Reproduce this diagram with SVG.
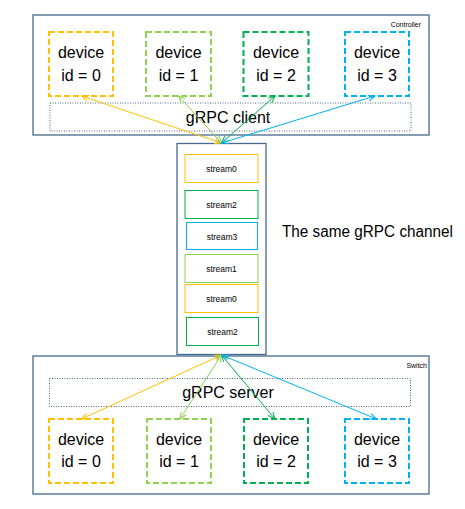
<svg xmlns="http://www.w3.org/2000/svg" width="465" height="509" viewBox="0 0 465 509">
<defs>
<style>
.frame{fill:#fff;stroke:#456a8e;stroke-width:1.3}
.dot{fill:none;stroke:#4a6a8a;stroke-width:1;stroke-dasharray:1,1.5}
.dev{fill:#fff;stroke-width:2;stroke-dasharray:6,3}
.st{fill:#fff;stroke-width:1}
.t{font-family:"Liberation Sans",Arial,sans-serif;fill:#000}
.big{font-size:16px}
.sm{font-size:7px}
.ss{font-size:8.5px}
.c0{stroke:#ffc000}.c1{stroke:#92d050}.c2{stroke:#00b050}.c3{stroke:#00b0f0}
.ln{fill:none;stroke-width:1}
</style>
<marker id="a0" markerWidth="8" markerHeight="8" refX="7" refY="4" orient="auto-start-reverse" markerUnits="userSpaceOnUse"><path d="M0,1 L7,4 L0,7" fill="none" stroke="#ffc000" stroke-width="1"/></marker>
<marker id="a1" markerWidth="8" markerHeight="8" refX="7" refY="4" orient="auto-start-reverse" markerUnits="userSpaceOnUse"><path d="M0,1 L7,4 L0,7" fill="none" stroke="#92d050" stroke-width="1"/></marker>
<marker id="a2" markerWidth="8" markerHeight="8" refX="7" refY="4" orient="auto-start-reverse" markerUnits="userSpaceOnUse"><path d="M0,1 L7,4 L0,7" fill="none" stroke="#00b050" stroke-width="1"/></marker>
<marker id="a3" markerWidth="8" markerHeight="8" refX="7" refY="4" orient="auto-start-reverse" markerUnits="userSpaceOnUse"><path d="M0,1 L7,4 L0,7" fill="none" stroke="#00b0f0" stroke-width="1"/></marker>
</defs>
<rect width="465" height="509" fill="#fff"/>

<g id="controller">
<rect class="frame" x="33" y="15" width="396" height="120"/>
<text class="t sm" x="421" y="27" text-anchor="end">Controller</text>
<rect class="dot" x="50" y="103" width="361" height="28"/>
<text class="t big" x="228" y="123" text-anchor="middle">gRPC client</text>
</g>
<g id="c-dev0"><rect class="dev c0" x="49" y="32" width="64" height="64"/><text class="t big" x="81" y="58" text-anchor="middle">device</text><text class="t big" x="81" y="81" text-anchor="middle">id = 0</text></g>
<g id="c-dev1"><rect class="dev c1" x="146" y="32" width="65" height="64"/><text class="t big" x="178.5" y="58" text-anchor="middle">device</text><text class="t big" x="178.5" y="81" text-anchor="middle">id = 1</text></g>
<g id="c-dev2"><rect class="dev c2" x="243.5" y="32" width="65" height="64"/><text class="t big" x="276" y="58" text-anchor="middle">device</text><text class="t big" x="276" y="81" text-anchor="middle">id = 2</text></g>
<g id="c-dev3"><rect class="dev c3" x="345" y="32" width="64" height="64"/><text class="t big" x="377" y="58" text-anchor="middle">device</text><text class="t big" x="377" y="81" text-anchor="middle">id = 3</text></g>

<g id="channel">
<rect class="frame" x="177" y="143.5" width="89" height="211"/>
<rect class="st c0" x="185" y="154.5" width="73" height="28"/><text class="t ss" x="221.5" y="171.5" text-anchor="middle">stream0</text>
<rect class="st c2" x="185" y="190.5" width="73" height="28"/><text class="t ss" x="221.5" y="207.5" text-anchor="middle">stream2</text>
<rect class="st c3" x="186.5" y="222.5" width="71" height="27"/><text class="t ss" x="222" y="239.5" text-anchor="middle">stream3</text>
<rect class="st c1" x="185" y="254.5" width="73" height="28"/><text class="t ss" x="221.5" y="271.5" text-anchor="middle">stream1</text>
<rect class="st c0" x="185" y="284.5" width="73" height="28"/><text class="t ss" x="221.5" y="301.5" text-anchor="middle">stream0</text>
<rect class="st c2" x="186.5" y="317.5" width="72" height="28"/><text class="t ss" x="222.5" y="334.5" text-anchor="middle">stream2</text>
</g>
<g id="label"><text class="t big" x="282" y="237" textLength="171" lengthAdjust="spacingAndGlyphs">The same gRPC channel</text></g>

<g id="switch">
<rect class="frame" x="33" y="356" width="396" height="138"/>
<text class="t sm" x="427" y="367.5" text-anchor="end">Switch</text>
<rect class="dot" x="49.5" y="378.5" width="361" height="28"/>
<text class="t big" x="228" y="398" text-anchor="middle">gRPC server</text>
</g>
<g id="s-dev0"><rect class="dev c0" x="49" y="419" width="64" height="64"/><text class="t big" x="81" y="445" text-anchor="middle">device</text><text class="t big" x="81" y="467" text-anchor="middle">id = 0</text></g>
<g id="s-dev1"><rect class="dev c1" x="147" y="419" width="64" height="64"/><text class="t big" x="179" y="445" text-anchor="middle">device</text><text class="t big" x="179" y="467" text-anchor="middle">id = 1</text></g>
<g id="s-dev2"><rect class="dev c2" x="244" y="419" width="64" height="64"/><text class="t big" x="276" y="445" text-anchor="middle">device</text><text class="t big" x="276" y="467" text-anchor="middle">id = 2</text></g>
<g id="s-dev3"><rect class="dev c3" x="345" y="419" width="64" height="64"/><text class="t big" x="377" y="445" text-anchor="middle">device</text><text class="t big" x="377" y="467" text-anchor="middle">id = 3</text></g>

<g id="connectors">
<line class="ln c0" x1="81.5" y1="96" x2="221.5" y2="143" marker-start="url(#a0)" marker-end="url(#a0)"/>
<line class="ln c1" x1="178.5" y1="96" x2="221.5" y2="143" marker-start="url(#a1)" marker-end="url(#a1)"/>
<line class="ln c2" x1="275" y1="96" x2="221.5" y2="143" marker-start="url(#a2)" marker-end="url(#a2)"/>
<line class="ln c3" x1="375" y1="96" x2="221.5" y2="143" marker-start="url(#a3)" marker-end="url(#a3)"/>
<line class="ln c0" x1="221.5" y1="355" x2="81.5" y2="419" marker-start="url(#a0)" marker-end="url(#a0)"/>
<line class="ln c1" x1="221.5" y1="355" x2="180" y2="419" marker-start="url(#a1)" marker-end="url(#a1)"/>
<line class="ln c2" x1="221.5" y1="355" x2="275" y2="419" marker-start="url(#a2)" marker-end="url(#a2)"/>
<line class="ln c3" x1="221.5" y1="355" x2="376.5" y2="419" marker-start="url(#a3)" marker-end="url(#a3)"/>
</g>
</svg>
